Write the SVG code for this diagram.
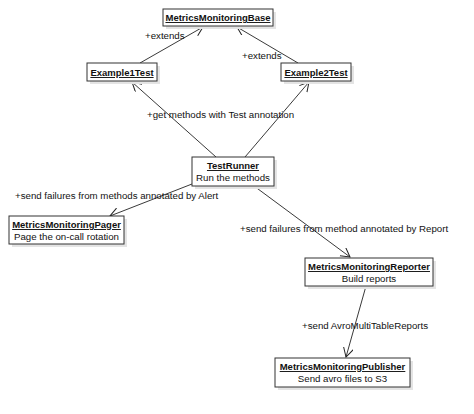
<svg xmlns="http://www.w3.org/2000/svg" width="474" height="414" viewBox="0 0 474 414">
<defs>
<style>
.box{fill:#fff;stroke:#333;stroke-width:1}
.sh{fill:#e4e4e4}
.name{font-family:"Liberation Sans",Arial,sans-serif;font-size:9.5px;font-weight:bold;text-decoration:underline;text-anchor:middle;fill:#111}
.desc{font-family:"Liberation Sans",Arial,sans-serif;font-size:9.7px;text-anchor:middle;fill:#111}
.lbl{font-family:"Liberation Sans",Arial,sans-serif;font-size:9.7px;fill:#111}
.edge{stroke:#222;stroke-width:0.9;fill:none;marker-end:url(#arr)}
</style>
<marker id="arr" markerWidth="12" markerHeight="12" refX="9" refY="5" orient="auto" markerUnits="userSpaceOnUse">
<path d="M0,0 L9,5 L0,10" fill="none" stroke="#222" stroke-width="1"/>
</marker>
</defs>
<rect width="474" height="414" fill="#fff"/>
<g id="connectors">
<line class="edge" x1="140" y1="63" x2="203" y2="27"/>
<line class="edge" x1="298" y1="63" x2="237" y2="27"/>
<line class="edge" x1="216" y1="157" x2="132" y2="82"/>
<line class="edge" x1="245" y1="157" x2="309" y2="82"/>
<line class="edge" x1="192" y1="184" x2="110" y2="216"/>
<line class="edge" x1="254" y1="186" x2="350" y2="257"/>
<line class="edge" x1="366" y1="286" x2="346" y2="357"/>
<text class="lbl" x="145" y="39">+extends</text>
<text class="lbl" x="242" y="59">+extends</text>
<text class="lbl" x="147" y="118">+get methods with Test annotation</text>
<text class="lbl" x="15" y="199">+send failures from methods annotated by Alert</text>
<text class="lbl" x="240" y="232">+send failures from method annotated by Report</text>
<text class="lbl" x="302" y="329">+send AvroMultiTableReports</text>
</g>
<g id="MetricsMonitoringBase">
<rect class="sh" x="166" y="12" width="110" height="17"/>
<rect class="box" x="163" y="9" width="110" height="17"/>
<text class="name" x="218" y="21">MetricsMonitoringBase</text>
</g>
<g id="Example1Test">
<rect class="sh" x="90" y="66" width="70" height="18"/>
<rect class="box" x="87" y="63" width="70" height="18"/>
<text class="name" x="122" y="76">Example1Test</text>
</g>
<g id="Example2Test">
<rect class="sh" x="284" y="66" width="70" height="18"/>
<rect class="box" x="281" y="63" width="70" height="18"/>
<text class="name" x="316" y="76">Example2Test</text>
</g>
<g id="TestRunner">
<rect class="sh" x="195" y="160" width="82" height="29"/>
<rect class="box" x="192" y="157" width="82" height="29"/>
<text class="name" x="233" y="169">TestRunner</text>
<text class="desc" x="233" y="181">Run the methods</text>
</g>
<g id="MetricsMonitoringPager">
<rect class="sh" x="12" y="219" width="115" height="28"/>
<rect class="box" x="9" y="216" width="115" height="28"/>
<text class="name" x="66.5" y="228">MetricsMonitoringPager</text>
<text class="desc" x="66.5" y="240">Page the on-call rotation</text>
</g>
<g id="MetricsMonitoringReporter">
<rect class="sh" x="308" y="261" width="128" height="28"/>
<rect class="box" x="305" y="258" width="128" height="28"/>
<text class="name" x="369" y="270">MetricsMonitoringReporter</text>
<text class="desc" x="369" y="282">Build reports</text>
</g>
<g id="MetricsMonitoringPublisher">
<rect class="sh" x="278" y="361" width="135" height="29"/>
<rect class="box" x="275" y="358" width="135" height="29"/>
<text class="name" x="342.5" y="370">MetricsMonitoringPublisher</text>
<text class="desc" x="342.5" y="382">Send avro files to S3</text>
</g>
</svg>
